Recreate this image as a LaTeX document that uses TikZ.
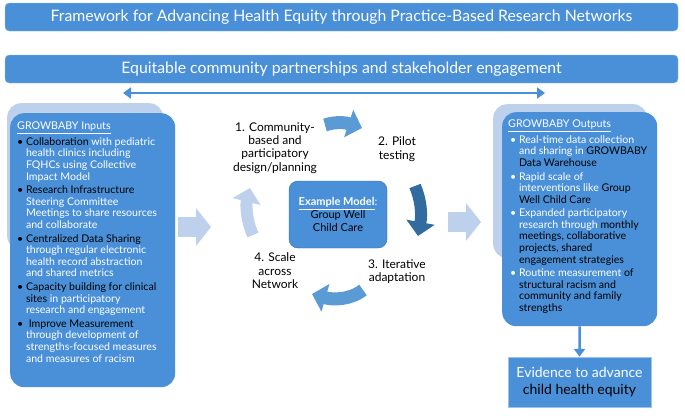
\documentclass[tikz,border=0pt]{standalone}
\usepackage{fontspec}
\setmainfont{Lato}
\usetikzlibrary{positioning,arrows.meta}

\definecolor{boxblue}{HTML}{4A90D9}
\definecolor{edgeblue}{HTML}{9DC3E6}
\definecolor{paleblue}{HTML}{BDD0EC}
\definecolor{midblue}{HTML}{5B9BD5}
\definecolor{deepblue}{HTML}{326B9F}

\newcommand{\blk}[1]{\textcolor{black}{#1}}

\tikzset{
  banner/.style = {draw=edgeblue, fill=boxblue, rounded corners=4pt, minimum width=673pt,
    minimum height=28pt, text=white, font=\fontsize{15.8}{18}\selectfont},
  backpanel/.style = {fill=paleblue, rounded corners=14pt, anchor=north west, inner sep=0pt},
  panel/.style = {fill=boxblue, rounded corners=14pt, anchor=north west, inner sep=0pt},
  heading/.style = {anchor=base west, inner sep=0pt, text=white, font=\fontsize{10.7}{12}\selectfont},
  item/.style = {anchor=north west, inner sep=0pt, text=white, font=\fontsize{10.6}{11.6}\selectfont},
  steplabel/.style = {align=center, font=\fontsize{12}{13.4}\selectfont},
  cyclearrow/.style = {line width=13pt, -{Triangle[length=14pt,width=28pt]}},
  bigarrow/.style = {draw=paleblue, line width=20pt, -{Triangle[length=15pt,width=37pt]}},
  thinarrow/.style = {draw=boxblue, line width=2.5pt, -{Triangle[length=8pt,width=11pt]}},
}

\begin{document}
\begin{tikzpicture}[x=1pt,y=-1pt]
\useasboundingbox (0,0) rectangle (685,415);

% banners
\node[banner] (title) at (341.5,17) {Framework for Advancing Health Equity through Practice-Based Research Networks};
\node[banner] (partner) at (341.5,69) {Equitable community partnerships and stakeholder engagement};
\coordinate (pl) at (123,93);
\coordinate (pr) at (545,93);
\draw[thinarrow, {Triangle[length=8pt,width=11pt]}-{Triangle[length=8pt,width=11pt]}] (pl) -- (pr);

% inputs
\node[backpanel, minimum width=156pt, minimum height=147pt] (inback) at (7,103) {};
\node[panel, minimum width=165pt, minimum height=274pt] (inbox) at (10,113) {};
\node[heading] (inhead) at (17,129.5) {\underline{GROWBABY Inputs}};
\node[item] (in1) at (17,137) {\begin{tabular}{@{}l@{\ }l@{}}
  \blk{\textbullet} & \blk{Collaboration} with pediatric\\ & health clinics including\\
  & FQHCs using Collective\\ & Impact Model\end{tabular}};
\node[item, below=1.6pt of in1.south west, anchor=north west] (in2) {\begin{tabular}{@{}l@{\ }l@{}}
  \blk{\textbullet} & \blk{Research Infrastructure}\\ & Steering Committee\\
  & Meetings to share resources\\ & and collaborate\end{tabular}};
\node[item, below=1.6pt of in2.south west, anchor=north west] (in3) {\begin{tabular}{@{}l@{\ }l@{}}
  \blk{\textbullet} & \blk{Centralized Data Sharing}\\ & through regular electronic\\
  & health record abstraction\\ & and shared metrics\end{tabular}};
\node[item, below=1.6pt of in3.south west, anchor=north west] (in4) {\begin{tabular}{@{}l@{\ }l@{}}
  \blk{\textbullet} & \blk{Capacity building for clinical}\\ & \blk{sites} in participatory\\
  & research and engagement\end{tabular}};
\node[item, below=1.6pt of in4.south west, anchor=north west] (in5) {\begin{tabular}{@{}l@{\ }l@{}}
  \blk{\textbullet} & \blk{\ Improve Measurement}\\ & through development of\\
  & strengths-focused measures\\ & and measures of racism\end{tabular}};

% outputs
\node[backpanel, minimum width=154pt, minimum height=154pt] (outback) at (493,104) {};
\node[panel, minimum width=155pt, minimum height=214pt] (outbox) at (502,112) {};
\node[heading] (outhead) at (508,127.5) {\underline{GROWBABY Outputs}};
\node[item] (out1) at (510,135) {\begin{tabular}{@{}l@{\ }l@{}}
  \textbullet & Real-time data collection\\ & and sharing in \blk{GROWBABY}\\
  & \blk{Data Warehouse}\end{tabular}};
\node[item, below=1.5pt of out1.south west, anchor=north west] (out2) {\begin{tabular}{@{}l@{\ }l@{}}
  \textbullet & Rapid scale of\\ & interventions like \blk{Group}\\
  & \blk{Well Child Care}\end{tabular}};
\node[item, below=1.5pt of out2.south west, anchor=north west] (out3) {\begin{tabular}{@{}l@{\ }l@{}}
  \textbullet & Expanded participatory\\ & research through \blk{monthly}\\
  & \blk{meetings, collaborative}\\ & \blk{projects, shared}\\ & \blk{engagement strategies}\end{tabular}};
\node[item, below=1.5pt of out3.south west, anchor=north west] (out4) {\begin{tabular}{@{}l@{\ }l@{}}
  \textbullet & Routine measurement \blk{of}\\ & \blk{structural racism and}\\
  & \blk{community and family}\\ & \blk{strengths}\end{tabular}};
\node[draw=edgeblue, fill=boxblue, minimum width=143pt, minimum height=50pt, align=center,
  font=\fontsize{14}{17}\selectfont] (evid) at (579.5,382) {\textcolor{white}{Evidence to advance}\\child health equity};
\draw[thinarrow] (outbox.south) -- (evid.north);

% cycle
\node[draw=deepblue, fill=boxblue, rounded corners=9pt, minimum width=98pt, minimum height=67pt,
  align=center, font=\fontsize{11}{13}\selectfont] (model) at (338,214.5)
  {\textcolor{white}{\underline{\textbf{Example Model}}:}\\Group Well\\Child Care};
\node[steplabel] (s1) at (275,148) {1. Community-\\based and\\participatory\\design/planning};
\node[steplabel] (s2) at (397,149) {2. Pilot\\testing};
\node[steplabel] (s3) at (397,271.5) {3. Iterative\\adaptation};
\node[steplabel] (s4) at (275,271) {4. Scale\\across\\Network};
\coordinate (a1) at (325,125);
\coordinate (b1) at (362,128);
\coordinate (a2) at (415,186);
\coordinate (b2) at (418,236);
\coordinate (a3) at (363,290);
\coordinate (b3) at (312,294);
\coordinate (a4) at (253,235);
\coordinate (b4) at (250,188);
\draw[cyclearrow, draw=midblue] (a1) .. controls (337,121) and (347,123) .. (b1);
\draw[cyclearrow, draw=deepblue, line width=12pt] (a2) .. controls (421,200) and (422,214) .. (b2);
\draw[cyclearrow, draw=midblue] (a3) .. controls (350,300) and (333,300) .. (b3);
\draw[cyclearrow, draw=paleblue, line width=12pt] (a4) .. controls (246,220) and (246,204) .. (b4);

% big arrows
\coordinate (l1) at (178,227);
\coordinate (l2) at (211,227);
\coordinate (r1) at (448,222);
\coordinate (r2) at (481,222);
\draw[bigarrow] (l1) -- (l2);
\draw[bigarrow] (r1) -- (r2);
\end{tikzpicture}
\end{document}
